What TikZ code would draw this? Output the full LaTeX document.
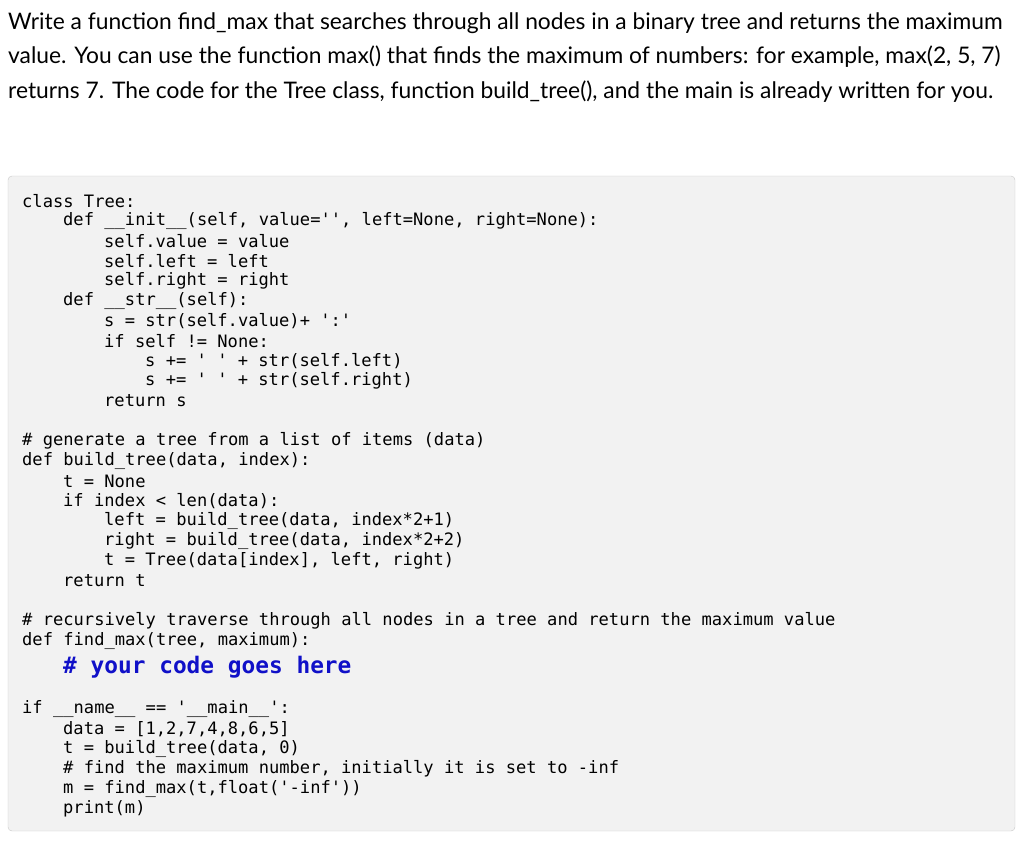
\documentclass[tikz,border=0pt]{standalone}
\usepackage{fontspec}
\setmainfont{Lato}
\setmonofont{DejaVu Sans Mono}
\definecolor{codebg}{HTML}{F2F2F2}
\definecolor{codeborder}{HTML}{C8C8C8}
\definecolor{kwblue}{HTML}{1010C8}
\tikzset{
  prose/.style={anchor=west, inner sep=0pt, font=\fontsize{22.8}{26}\selectfont},
  code/.style={anchor=west, inner sep=0pt, font=\fontsize{17.1}{20}\ttfamily},
  hint/.style={anchor=west, inner sep=0pt, text=kwblue, font=\fontsize{22.8}{26}\ttfamily\bfseries}
}
\begin{document}
\begin{tikzpicture}[x=1pt,y=-1pt]
\useasboundingbox (0,0) rectangle (1024,844);
\node[prose] (p1) at (8,23) {Write a function find\_max that searches through all nodes in a binary tree and returns the maximum};
\node[prose] (p2) at (8,57) {value. You can use the function max() that finds the maximum of numbers: for example, max(2, 5, 7)};
\node[prose] (p3) at (8,92) {returns 7. The code for the Tree class, function build\_tree(), and the main is already written for you.};
\draw[codeborder, fill=codebg, rounded corners=4pt] (8,176) rectangle (1015,831);
\node[code] (c1) at (22,201) {class Tree:};
\node[code] (c2) at (63,221) {def \_\_init\_\_(self, value='', left=None, right=None):};
\node[code] (c3) at (104,241) {self.value = value};
\node[code] (c4) at (104,261) {self.left = left};
\node[code] (c5) at (104,281) {self.right = right};
\node[code] (c6) at (63,301) {def \_\_str\_\_(self):};
\node[code] (c7) at (104,321) {s = str(self.value)+ ':'};
\node[code] (c8) at (104,341) {if self != None:};
\node[code] (c9) at (145,361) {s += '\ ' + str(self.left)};
\node[code] (c10) at (145,381) {s += '\ ' + str(self.right)};
\node[code] (c11) at (104,401) {return s};
\node[code] (c12) at (22,441) {\# generate a tree from a list of items (data)};
\node[code] (c13) at (22,461) {def build\_tree(data, index):};
\node[code] (c14) at (63,481) {t = None};
\node[code] (c15) at (63,501) {if index < len(data):};
\node[code] (c16) at (104,521) {left = build\_tree(data, index*2+1)};
\node[code] (c17) at (104,541) {right = build\_tree(data, index*2+2)};
\node[code] (c18) at (104,561) {t = Tree(data[index], left, right)};
\node[code] (c19) at (63,581) {return t};
\node[code] (c20) at (22,621) {\# recursively traverse through all nodes in a tree and return the maximum value};
\node[code] (c21) at (22,641) {def find\_max(tree, maximum):};
\node[hint] (c22) at (63,667) {\# your code goes here};
\node[code] (c23) at (22,709) {if \_\_name\_\_ == '\_\_main\_\_':};
\node[code] (c24) at (63,729) {data = [1,2,7,4,8,6,5]};
\node[code] (c25) at (63,749) {t = build\_tree(data, 0)};
\node[code] (c26) at (63,769) {\# find the maximum number, initially it is set to -inf};
\node[code] (c27) at (63,789) {m = find\_max(t,float('-inf'))};
\node[code] (c28) at (63,809) {print(m)};
\end{tikzpicture}
\end{document}
